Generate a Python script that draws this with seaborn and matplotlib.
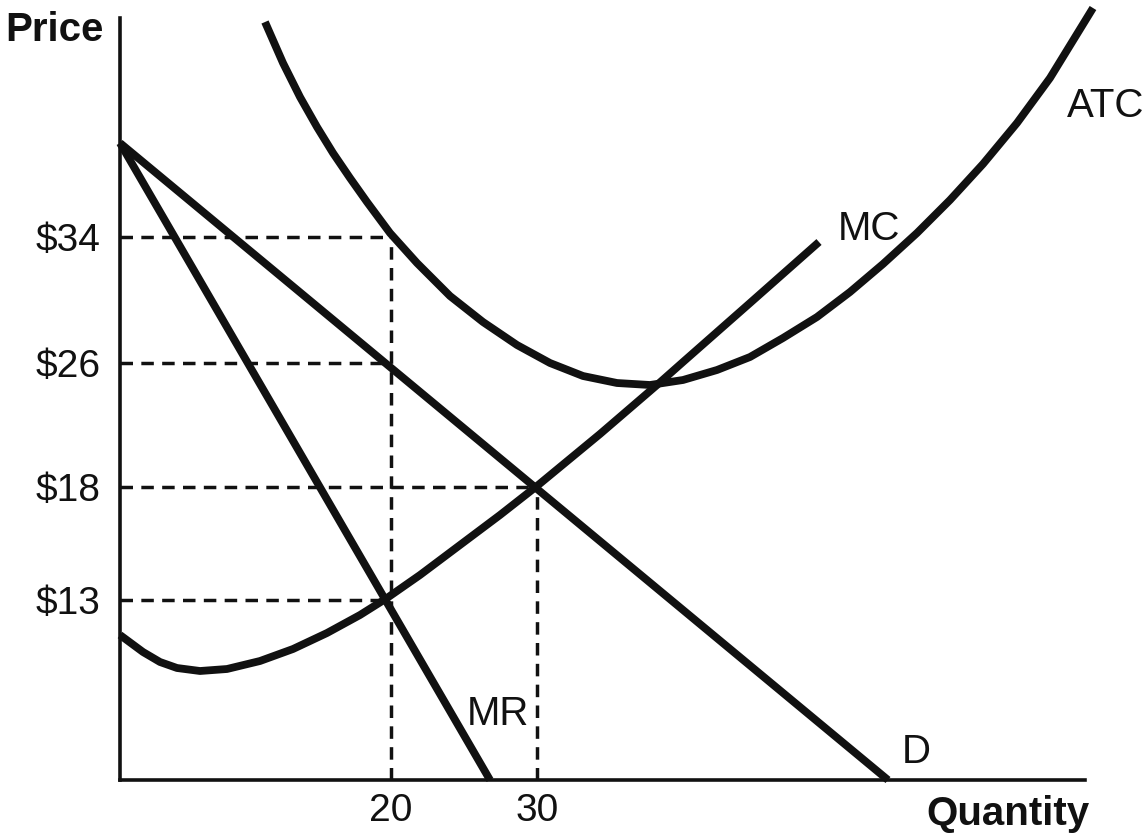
import numpy as np
import pandas as pd
import matplotlib
matplotlib.use("Agg")
import matplotlib.pyplot as plt
import seaborn as sns

# the sketch is not to scale, so everything is kept in "diagram units"
# (0 at the origin, x to the right, y upwards)
demand_x = [0, 768]
demand_y = [637, 0]

mr_x = [0, 370]
mr_y = [637, 0]

mc_x = [0, 23, 40, 57, 80, 107, 140, 173, 207, 240, 267, 300, 340, 380, 417,
        480, 537, 563, 630, 699]
mc_y = [145, 128, 118, 112, 109, 111, 119, 131, 147, 165, 182, 205, 235, 265, 294,
        346, 395, 418, 477, 538]

atc_x = [145, 163, 180, 197, 213, 230, 247, 270, 297, 330, 363, 397, 430, 463,
         497, 530, 563, 597, 630, 663, 697, 730, 763, 797, 830, 863, 897, 930, 973]
atc_y = [758, 717, 683, 653, 627, 602, 578, 547, 517, 484, 458, 435, 417, 404,
         397, 395, 400, 410, 423, 442, 463, 488, 516, 547, 580, 616, 657, 702, 772]

# marked prices / quantities and where they sit on the sketch
price_labels = ["$34", "$26", "$18", "$13"]
price_pos = [543, 417, 293, 180]
qty_labels = ["20", "30"]
qty_pos = [271, 417]

# how far right each price guide runs, how high each quantity guide goes
guide_end_x = [271, 271, 417, 267]
guide_top_y = [543, 293]

sns.set_theme(style="white")
plt.rcParams["font.family"] = ["Liberation Sans", "DejaVu Sans"]

fig = plt.figure(figsize=(11.48, 8.38), dpi=100)
ax = fig.add_axes([120 / 1148, 58 / 838, 965 / 1148, 762 / 838])

ink = "#111111"
dash = (0, (3.6, 2.4))

# guides first so the curves sit on top
ax.hlines(price_pos, 0, guide_end_x, colors=ink, lw=2.5, linestyles=dash)
ax.vlines(qty_pos, 0, guide_top_y, colors=ink, lw=2.5, linestyles=dash)

curves = [(demand_x, demand_y), (mr_x, mr_y), (mc_x, mc_y), (atc_x, atc_y)]
for xs, ys in curves:
    df = pd.DataFrame({"q": xs, "p": ys})
    sns.lineplot(data=df, x="q", y="p", ax=ax, color=ink, lw=5.6,
                 sort=False, clip_on=False, solid_capstyle="butt",
                 solid_joinstyle="round")

ax.set_xlim(0, 965)
ax.set_ylim(0, 762)
ax.set_xlabel("")
ax.set_ylabel("")

ax.set_yticks(price_pos)
ax.set_yticklabels(price_labels)
ax.set_xticks(qty_pos)
ax.set_xticklabels(qty_labels)
ax.tick_params(axis="y", length=0, pad=14, labelsize=28, colors=ink)
ax.tick_params(axis="x", length=0, pad=9, labelsize=28, colors=ink)

for side in ["top", "right"]:
    ax.spines[side].set_visible(False)
for side in ["left", "bottom"]:
    ax.spines[side].set_color(ink)
    ax.spines[side].set_linewidth(2.6)

txt = dict(fontsize=29, color=ink, clip_on=False)
ax.text(-115, 750, "Price", ha="left", va="center", fontweight="bold", **txt)
ax.text(970, -45, "Quantity", ha="right", va="baseline", fontweight="bold", **txt)
ax.text(947, 663, "ATC", ha="left", va="baseline", **txt)
ax.text(718, 540, "MC", ha="left", va="baseline", **txt)
ax.text(347, 55, "MR", ha="left", va="baseline", **txt)
ax.text(782, 17, "D", ha="left", va="baseline", **txt)

fig.savefig("out.png", dpi=100)
